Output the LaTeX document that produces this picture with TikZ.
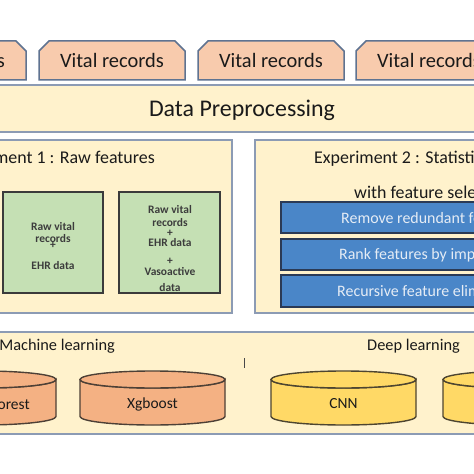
\documentclass[tikz,border=0pt]{standalone}
\usepackage{fontspec}
\setmainfont{Carlito}
\usetikzlibrary{shapes.misc}
\definecolor{tabfill}{HTML}{F8CBAD}
\definecolor{tabline}{HTML}{5F7391}
\definecolor{bandfill}{HTML}{FFF2CC}
\definecolor{bandline}{HTML}{8C9BB4}
\definecolor{greenfill}{HTML}{C5E0B4}
\definecolor{greenline}{HTML}{3B3B3B}
\definecolor{bluefill}{HTML}{4A86C8}
\definecolor{blueline}{HTML}{2B3A55}
\definecolor{bluetext}{HTML}{E5ECF5}
\definecolor{mlfill}{HTML}{F4B183}
\definecolor{mlline}{HTML}{4D4036}
\definecolor{dlfill}{HTML}{FFD966}
\definecolor{dlline}{HTML}{4D4530}
\definecolor{ink}{HTML}{1A1A1A}
\tikzset{
  tabbox/.style={chamfered rectangle, chamfered rectangle corners={north west,north east},
    chamfered rectangle xsep=5bp, chamfered rectangle ysep=5bp,
    draw=tabline, fill=tabfill, line width=1.5bp, minimum width=146bp, minimum height=39bp,
    inner sep=0pt, font=\fontsize{20.5}{24}\selectfont, text=ink},
  band/.style={draw=bandline, fill=bandfill, line width=1.5bp},
  greenbox/.style={draw=greenline, fill=greenfill, line width=1.3bp},
  bluebox/.style={draw=blueline, fill=bluefill, line width=1.3bp},
  title/.style={font=\fontsize{16.4}{20}\selectfont, text=ink, inner sep=0pt},
  exptitle/.style={font=\fontsize{18}{22}\selectfont, text=ink, inner sep=0pt},
  bluelabel/.style={font=\fontsize{16}{19}\selectfont, text=bluetext, inner sep=0pt, anchor=west},
  greentext/.style={font=\bfseries\fontsize{11.5}{13.5}\selectfont, text=ink!85, inner sep=0pt, align=center},
  cylline/.style={line width=1.4bp},
  cyltext/.style={font=\fontsize{15.5}{18}\selectfont, text=ink, inner sep=0pt},
}
\newcommand{\mycyl}[6]{% cx, rx, fill, line, name, text
  \draw[cylline, draw=#4, fill=#3] (#1-#2,379.5) -- (#1-#2,416.5)
    arc[start angle=180, end angle=0, x radius=#2, y radius=8.5] -- (#1+#2,379.5)
    arc[start angle=0, end angle=180, x radius=#2, y radius=8.5] -- cycle;
  \draw[cylline, draw=#4, fill=#3] (#1,379.5) ellipse[x radius=#2, y radius=8.5];
  \node[cyltext] (#5) at (#1,404) {#6};}
\begin{document}
\begin{tikzpicture}[x=1bp, y=-1bp]
\path[use as bounding box] (0,0) rectangle (474,474);
\clip (0,0) rectangle (474,474);
\fill[white] (0,0) rectangle (474,474);
% input tabs
\node[tabbox] (tab1) at (-47,60.5) {Vital records};
\node[tabbox] (tab2) at (112,60.5) {Vital records};
\node[tabbox] (tab3) at (271,60.5) {Vital records};
\node[tabbox] (tab4) at (429,60.5) {Vital records};
% preprocessing band
\draw[band] (-10,85) rectangle (484,132);
\node[font=\fontsize{24}{28}\selectfont, text=ink, inner sep=0pt] (prep) at (242,110.5) {Data Preprocessing};
% experiment boxes
\draw[band] (-100,140) rectangle (232,313);
\draw[band] (255,140) rectangle (620,313);
\node[exptitle, anchor=east] (exp1) at (155,159) {Experiment 1 : Raw features};
\node[exptitle, anchor=west] (exp2) at (314,159) {Experiment 2 : Statistical features};
\node[exptitle, anchor=west] (exp2b) at (354,192.5) {with feature selection};
% green boxes
\draw[greenbox] (3,192) rectangle (103,293);
\draw[greenbox] (119,192) rectangle (220,293);
\node[greentext] (g1a) at (53,227) {Raw vital};
\node[greentext] (g1b) at (53,239) {records};
\node[greentext] (g1c) at (53,245) {+};
\node[greentext] (g1d) at (53,266) {EHR data};
\node[greentext] (g2a) at (170,210) {Raw vital};
\node[greentext] (g2b) at (170,223) {records};
\node[greentext] (g2c) at (170,233) {+};
\node[greentext] (g2d) at (170,243) {EHR data};
\node[greentext] (g2e) at (170,261) {+};
\node[greentext] (g2f) at (170,272) {Vasoactive};
\node[greentext] (g2g) at (170,288) {data};
% blue boxes
\draw[bluebox] (281,202) rectangle (600,233);
\draw[bluebox] (281,239) rectangle (600,270);
\draw[bluebox] (281,275) rectangle (600,307);
\node[bluelabel] (b1) at (341,218) {Remove redundant features};
\node[bluelabel] (b2) at (339,255) {Rank features by importance};
\node[bluelabel] (b3) at (337,291.5) {Recursive feature elimination};
% model band
\draw[band] (-10,332) rectangle (484,434);
\node[title, anchor=east] (ml) at (115,346) {Machine learning};
\node[title] (dl) at (413.5,346) {Deep learning};
\draw[ink!80, line width=0.8bp] (244,358) -- (244,368);
% cylinders
\mycyl{-16.5}{72.5}{mlfill}{mlline}{rf}{Random forest}
\mycyl{152.5}{72.5}{mlfill}{mlline}{xg}{Xgboost}
\mycyl{343.5}{72.5}{dlfill}{dlline}{cnn}{CNN}
\mycyl{515.5}{72.5}{dlfill}{dlline}{dl2}{}
\end{tikzpicture}
\end{document}
